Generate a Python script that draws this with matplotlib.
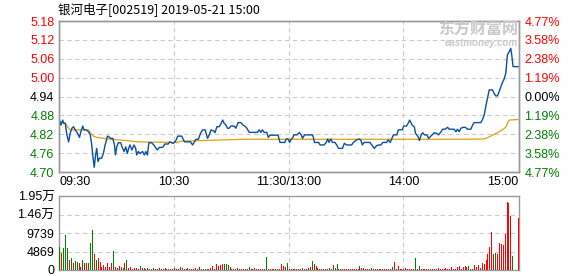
import numpy as np
import matplotlib
matplotlib.use('Agg')
import matplotlib.pyplot as plt

plt.rcParams['font.family'] = ['Liberation Sans', 'Noto Sans CJK SC', 'DejaVu Sans']

# ---- data ----
title = '银河电子[002519] 2019-05-21 15:00'
pre_close = 4.94
price_ticks = [5.18, 5.12, 5.06, 5.00, 4.94, 4.88, 4.82, 4.76, 4.70]
pct_labels = ['4.77%', '3.58%', '2.38%', '1.19%', '0.00%', '1.19%', '2.38%', '3.58%', '4.77%']
time_ticks = [0, 60, 120, 180, 240]
time_labels = ['09:30', '10:30', '11:30/13:00', '14:00', '15:00']
vol_ticks = [0, 4869, 9739, 14608, 19478]
vol_labels = ['0', '4869', '9739', '1.46万', '1.95万']

# price line (minute since 09:30, price)
price_t = [0, 0.8, 1.7, 2.2, 3.0, 3.9, 4.8, 5.6, 6.5, 7.4,
           8.2, 9.5, 10.5, 11.2, 12.2, 12.9, 14.0, 15.2, 16.1, 16.8,
           17.5, 18.2, 18.9, 19.5, 20.2, 20.9, 22.1, 23.0, 23.9, 24.4,
           25.1, 25.8, 26.8, 27.9, 28.8, 29.3, 30.0, 30.8, 32.0, 32.9,
           33.8, 34.7, 35.5, 36.2, 36.9, 37.9, 39.0, 39.9, 40.4, 41.3,
           42.1, 43.5, 44.4, 45.2, 46.0, 46.8, 48.2, 49.4, 50.3, 51.2,
           52.2, 53.4, 54.3, 55.1, 56.9, 57.7, 58.6, 59.5, 60.5, 61.1,
           61.9, 64.0, 65.4, 68.5, 69.7, 70.6, 71.5, 72.7, 73.7, 74.9,
           76.2, 77.5, 78.4, 79.3, 80.7, 81.4, 82.4, 83.6, 84.5, 85.4,
           86.2, 87.1, 88.0, 88.8, 89.7, 91.5, 92.3, 93.5, 94.9, 96.1,
           97.0, 98.1, 99.3, 103.6, 104.5, 105.4, 106.2, 107.1, 108.5, 109.3,
           110.2, 114.4, 115.4, 117.9, 118.7, 119.6, 120.5, 121.3, 122.2, 122.6,
           124.3, 125.5, 126.5, 127.2, 128.3, 132.5, 133.5, 135.6, 136.4, 138.5,
           139.6, 140.4, 141.1, 142.0, 142.9, 144.2, 145.1, 146.0, 148.1, 149.1,
           150.3, 152.9, 153.8, 155.5, 157.0, 157.8, 158.5, 159.4, 162.5, 163.7,
           164.8, 166.0, 167.2, 168.2, 169.3, 171.2, 172.1, 173.1, 174.2, 174.8,
           176.6, 177.3, 179.4, 180.2, 181.6, 182.5, 183.3, 184.6, 185.8, 186.3,
           187.0, 187.7, 188.4, 189.3, 190.1, 191.0, 192.2, 193.2, 194.1, 195.0,
           196.2, 197.4, 198.4, 199.7, 200.5, 201.9, 203.1, 204.0, 206.6, 207.5,
           208.3, 209.2, 210.1, 211.3, 212.4, 213.6, 215.3, 216.2, 217.0, 220.5,
           221.4, 222.3, 223.1, 224.0, 224.9, 226.6, 227.5, 228.3, 229.2, 230.1,
           231.0, 231.8, 232.7, 233.6, 234.4, 235.3, 236.2, 236.7, 237.4, 240]
price = [4.865, 4.849, 4.865, 4.855, 4.855, 4.818, 4.796, 4.823, 4.839, 4.844,
         4.834, 4.823, 4.810, 4.828, 4.846, 4.834, 4.834, 4.828, 4.818, 4.791,
         4.749, 4.715, 4.754, 4.775, 4.733, 4.744, 4.744, 4.759, 4.786, 4.796,
         4.814, 4.812, 4.807, 4.807, 4.786, 4.754, 4.780, 4.793, 4.793, 4.778,
         4.765, 4.780, 4.759, 4.775, 4.786, 4.770, 4.786, 4.775, 4.754, 4.765,
         4.759, 4.765, 4.754, 4.765, 4.754, 4.793, 4.793, 4.786, 4.778, 4.770,
         4.778, 4.778, 4.780, 4.789, 4.789, 4.796, 4.793, 4.791, 4.796, 4.802,
         4.814, 4.814, 4.796, 4.796, 4.786, 4.796, 4.804, 4.804, 4.821, 4.834,
         4.834, 4.807, 4.818, 4.834, 4.831, 4.825, 4.844, 4.844, 4.853, 4.865,
         4.855, 4.849, 4.839, 4.839, 4.846, 4.846, 4.839, 4.857, 4.857, 4.849,
         4.846, 4.839, 4.826, 4.826, 4.834, 4.826, 4.834, 4.826, 4.826, 4.810,
         4.817, 4.817, 4.794, 4.794, 4.805, 4.805, 4.794, 4.804, 4.810, 4.818,
         4.818, 4.825, 4.818, 4.807, 4.818, 4.818, 4.794, 4.794, 4.786, 4.786,
         4.794, 4.805, 4.794, 4.805, 4.794, 4.794, 4.786, 4.775, 4.775, 4.791,
         4.786, 4.786, 4.794, 4.802, 4.805, 4.800, 4.786, 4.794, 4.794, 4.784,
         4.775, 4.784, 4.786, 4.786, 4.794, 4.794, 4.802, 4.794, 4.810, 4.818,
         4.818, 4.834, 4.834, 4.846, 4.846, 4.855, 4.865, 4.849, 4.842, 4.823,
         4.818, 4.812, 4.800, 4.818, 4.825, 4.818, 4.818, 4.807, 4.812, 4.818,
         4.825, 4.823, 4.818, 4.828, 4.836, 4.836, 4.842, 4.836, 4.836, 4.828,
         4.836, 4.828, 4.839, 4.842, 4.842, 4.836, 4.836, 4.849, 4.857, 4.857,
         4.867, 4.881, 4.908, 4.934, 4.961, 4.961, 4.950, 4.942, 4.942, 4.955,
         4.971, 4.984, 4.995, 5.014, 5.072, 5.082, 5.093, 5.072, 5.035, 5.035]

# average price line
avg_t = [0, 3.0, 4.8, 5.6, 15.2, 16.1, 17.8, 19.5, 23.0, 26.5, 35.2, 40.4, 61.0,
         63.6, 85.4, 96.0, 210.0, 222.3, 225.0, 227.6, 229.2, 231.8, 233.6, 234.4, 235.3, 240]
avg_p = [4.860, 4.855, 4.839, 4.834, 4.834, 4.825, 4.814, 4.810, 4.807, 4.804, 4.800, 4.796, 4.794,
         4.798, 4.802, 4.804, 4.804, 4.805, 4.812, 4.820, 4.825, 4.834, 4.842, 4.855, 4.865, 4.867]

# volume per minute (241 bars) and direction r=up g=down
volume = [6140, 4560, 5870, 9210, 5870, 2630, 3070, 1760, 2370, 2190,
          1760, 700, 2630, 1930, 1760, 1930, 7190, 10530, 4210, 2630,
          3070, 2190, 700, 1320, 700, 1760, 700, 1760, 5080, 700,
          440, 1050, 700, 440, 1930, 2630, 440, 700, 260, 440,
          440, 260, 1050, 440, 440, 260, 440, 260, 260, 610,
          260, 260, 440, 260, 260, 440, 260, 260, 260, 260,
          440, 260, 260, 700, 440, 260, 260, 440, 260, 260,
          260, 440, 260, 700, 260, 260, 260, 260, 260, 610,
          1050, 260, 1580, 1050, 1230, 1580, 1580, 1580, 1320, 700,
          260, 260, 260, 440, 260, 260, 260, 260, 260, 700,
          260, 260, 440, 260, 260, 260, 260, 260, 3340, 260,
          260, 260, 260, 260, 260, 260, 1580, 1050, 700, 1760,
          260, 260, 260, 260, 260, 260, 260, 440, 260, 260,
          440, 700, 2370, 1580, 1050, 440, 260, 260, 260, 260,
          260, 440, 260, 1230, 440, 1580, 260, 260, 260, 260,
          260, 260, 260, 260, 260, 260, 260, 1050, 440, 440,
          260, 260, 260, 440, 260, 260, 260, 260, 260, 260,
          260, 260, 260, 260, 700, 2100, 260, 1050, 260, 260,
          260, 610, 260, 260, 260, 260, 3070, 260, 1050, 260,
          260, 260, 260, 260, 260, 260, 260, 260, 440, 260,
          260, 260, 610, 260, 260, 700, 260, 260, 700, 1050,
          260, 700, 1050, 700, 1050, 260, 260, 1320, 700, 1230,
          610, 1760, 1580, 2630, 4210, 5960, 9920, 4210, 4390, 4210,
          7190, 6840, 6580, 9480, 17900, 17720, 14210, 3690, 0, 0,
          13600]
vol_dir = ('grgggrgrgg' 'rrgrrgggrg' 'rrrrrrrrgr' 'rrrgrgrrrr' 'rrgrgrrrgg'
           'rrrrgrrgrr' 'rrrrgrgrrr' 'rrgrrggrrr' 'rrrrrrgggr' 'rrgrrrrrrg'
           'rrrrrrrrgr' 'rrrrrrrrrg' 'rrrrrrrgrr' 'rrgrrgrrrr' 'rgrrggrrrr'
           'rrrrrrrgrr' 'rrrgrrrrrr' 'rrrrgrrrrr' 'rrrrrrgrgr' 'rrrrgrrrrr'
           'rrrrrrrrrr' 'rrrrgrrrrr' 'rrrrrrrrgr' 'rrrrrrrgrr' 'r')

RED = '#ff0000'
GREEN = '#008000'
FRAME = '#999999'
GRID = '#cccccc'


def label_color(p):
    if p > pre_close + 1e-9:
        return RED
    if p < pre_close - 1e-9:
        return GREEN
    return '#000000'


fig = plt.figure(figsize=(5.78, 2.76), dpi=100)
ax = fig.add_axes([58.5 / 578, 1 - 172 / 276, 460.5 / 578, 151 / 276])
axv = fig.add_axes([58.5 / 578, 1 - 270 / 276, 460.5 / 578, 74 / 276])

# main price panel
ax.plot(avg_t, avg_p, color='#e0a010', lw=0.9, zorder=3)
ax.plot(price_t, price, color='#0a4fa0', lw=1.0, zorder=4)
ax.set_xlim(-0.5, 240.5)
ax.set_ylim(price_ticks[-1], price_ticks[0])
ax.set_yticks(price_ticks)
ax.set_yticklabels(['%.2f' % p for p in price_ticks])
for lab, p in zip(ax.get_yticklabels(), price_ticks):
    lab.set_color(label_color(p))
ax.set_xticks(time_ticks)
ax.set_xticklabels(time_labels)
xl = ax.get_xticklabels()
xl[0].set_ha('left')
xl[-1].set_ha('right')
ax.tick_params(axis='both', length=0, labelsize=9)
ax.tick_params(axis='y', pad=3)
ax.tick_params(axis='x', pad=3)
for y in price_ticks[1:-1]:
    ax.axhline(y, color=GRID, lw=0.8, ls=(0, (4, 3)), zorder=1)
for t in time_ticks[1:-1]:
    ax.axvline(t, color=GRID, lw=0.8, ls=(0, (4, 3)), zorder=1)

axr = ax.twinx()
axr.set_ylim(ax.get_ylim())
axr.set_yticks(price_ticks)
axr.set_yticklabels(pct_labels)
for lab, p in zip(axr.get_yticklabels(), price_ticks):
    lab.set_color(label_color(p))
axr.tick_params(axis='y', length=0, labelsize=9, pad=4)

for a in (ax, axr, axv):
    for s in a.spines.values():
        s.set_color(FRAME)
        s.set_linewidth(1.0)

# volume panel: one pixel wide sticks
t_all = np.arange(len(volume))
cols = [RED if c == 'r' else GREEN for c in vol_dir]
axv.vlines(t_all, 0, volume, colors=cols, linewidth=0.72, antialiased=False, zorder=3)
axv.set_xlim(-0.5, 240.5)
axv.set_ylim(vol_ticks[0], vol_ticks[-1])
axv.set_yticks(vol_ticks)
axv.set_yticklabels(vol_labels)
axv.set_xticks([])
axv.tick_params(axis='y', length=0, labelsize=9, pad=3)
for y in vol_ticks[1:-1]:
    axv.axhline(y, color=GRID, lw=0.8, ls=(0, (4, 3)), zorder=1)
for t in time_ticks[1:-1]:
    axv.axvline(t, color=GRID, lw=0.8, ls=(0, (4, 3)), zorder=1)

# title and watermark
fig.text(58 / 578, 1 - 9 / 276, title, fontsize=9, va='center', ha='left',
         family=['Noto Sans CJK SC', 'DejaVu Sans'])
fig.text(518 / 578, 1 - 29 / 276, '东方财富网', fontsize=11.5, fontweight='bold',
         color='#c8c8c8', ha='right', va='center', family=['Noto Sans CJK SC'])
fig.text(518 / 578, 1 - 43 / 276, 'eastmoney.com', fontsize=7, fontweight='bold',
         style='italic', color='#c8c8c8', ha='right', va='center')

fig.savefig('out.png', dpi=100)
